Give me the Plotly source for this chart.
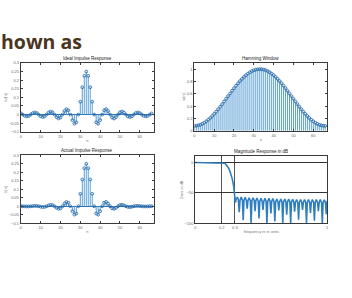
import plotly.graph_objects as go

# ---------------- data ----------------
n = list(range(67))
n_ticks = [0, 10, 20, 30, 40, 50, 60]

ideal_h = [0.00682, 0, -0.00726, -0.01061, -0.00776, 0, 0.00834, 0.01224, 0.00900, 0,
           -0.00979, -0.01447, -0.01072, 0, 0.01185, 0.01768, 0.01324, 0, -0.01501, -0.02274,
           -0.01731, 0, 0.02046, 0.03183, 0.02501, 0, -0.03215, -0.05305, -0.04502, 0,
           0.07503, 0.15915, 0.22508, 0.25, 0.22508, 0.15915, 0.07503,
           0, -0.04502, -0.05305, -0.03215, 0, 0.02501, 0.03183, 0.02046, 0, -0.01731,
           -0.02274, -0.01501, 0, 0.01324, 0.01768, 0.01185, 0, -0.01072, -0.01447, -0.00979,
           0, 0.00900, 0.01224, 0.00834, 0, -0.00776, -0.01061, -0.00726, 0, 0.00682]

hamming_w = [0.08, 0.08208, 0.08831, 0.09863, 0.11295, 0.13114, 0.15302, 0.17842, 0.20708, 0.23876,
             0.27318, 0.31, 0.34891, 0.38955, 0.43156, 0.47454, 0.51811, 0.56189, 0.60546, 0.64845,
             0.69045, 0.73109, 0.77, 0.80682, 0.84124, 0.87292, 0.90158, 0.92698, 0.94886, 0.96705,
             0.98137, 0.99169, 0.99792, 1.0, 0.99792, 0.99169, 0.98137,
             0.96705, 0.94886, 0.92698, 0.90158, 0.87292, 0.84124, 0.80682, 0.77, 0.73109, 0.69045,
             0.64845, 0.60546, 0.56189, 0.51811, 0.47454, 0.43156, 0.38955, 0.34891, 0.31, 0.27318,
             0.23876, 0.20708, 0.17842, 0.15302, 0.13114, 0.11295, 0.09863, 0.08831, 0.08208, 0.08]

actual_h = [0.00055, 0, -0.00064, -0.00105, -0.00088, 0, 0.00128, 0.00218, 0.00186, 0,
            -0.00267, -0.00449, -0.00374, 0, 0.00511, 0.00839, 0.00686, 0, -0.00909, -0.01475,
            -0.01195, 0, 0.01575, 0.02568, 0.02104, 0, -0.02899, -0.04918, -0.04272, 0,
            0.07363, 0.15783, 0.22461, 0.25, 0.22461, 0.15783, 0.07363,
            0, -0.04272, -0.04918, -0.02899, 0, 0.02104, 0.02568, 0.01575, 0, -0.01195,
            -0.01475, -0.00909, 0, 0.00686, 0.00839, 0.00511, 0, -0.00374, -0.00449, -0.00267,
            0, 0.00186, 0.00218, 0.00128, 0, -0.00088, -0.00105, -0.00064, 0, 0.00055]

freq = [0, 0.05, 0.1, 0.15, 0.18, 0.2, 0.21, 0.22, 0.23, 0.24, 0.25, 0.26, 0.27, 0.28, 0.29, 0.3,
        0.304, 0.310, 0.318, 0.326, 0.333,
        0.339, 0.348, 0.357, 0.363, 0.369, 0.378, 0.387, 0.393,
        0.399, 0.408, 0.417, 0.423, 0.429, 0.438, 0.447, 0.453,
        0.459, 0.468, 0.477, 0.483, 0.489, 0.498, 0.507, 0.513,
        0.519, 0.528, 0.537, 0.543, 0.549, 0.558, 0.567, 0.573,
        0.579, 0.588, 0.597, 0.603, 0.609, 0.618, 0.627, 0.633,
        0.639, 0.648, 0.657, 0.663, 0.669, 0.678, 0.687, 0.693,
        0.699, 0.708, 0.717, 0.723, 0.729, 0.738, 0.747, 0.753,
        0.759, 0.768, 0.777, 0.783, 0.789, 0.798, 0.807, 0.813,
        0.819, 0.828, 0.837, 0.843, 0.849, 0.858, 0.867, 0.873,
        0.879, 0.888, 0.897, 0.903, 0.909, 0.918, 0.927, 0.933,
        0.939, 0.948, 0.957, 0.963, 0.969, 0.978, 0.987, 0.993, 1.0]

gain_db = [0, 0, 0, -0.01, -0.03, -0.1, -0.4, -1.2, -2.8, -5.2, -8.5, -13, -19, -27, -38, -55,
           -66, -60, -57, -61, -82,
           -62, -57, -62, -95, -62, -57.5, -62.5, -76,
           -63, -58, -63, -100, -63, -58, -63, -80,
           -63, -58.5, -63.5, -92, -64, -59, -64, -78,
           -64, -59, -64, -100, -64, -59, -64, -84,
           -64, -59.5, -64.5, -97, -65, -60, -65, -79,
           -65, -60, -65, -100, -65, -60, -65, -86,
           -65, -60, -65, -100, -65, -60.5, -65.5, -81,
           -66, -61, -66, -94, -66, -61, -66, -78,
           -66, -61, -66, -100, -66, -61, -66, -83,
           -66, -61, -66, -96, -66, -61, -66, -80,
           -66, -61, -66, -100, -66, -61.5, -66, -85, -63]

# ---------------- layout helpers ----------------
W, H = 352, 298


def dom_x(a, b):
    return [a / W, b / W]


def dom_y(top, bottom):
    return [1 - bottom / H, 1 - top / H]


STEM = '#5a9fd4'
MARK = '#2b6cab'
LINE = '#2f7fc0'


def stem_xy(xs, ys):
    sx, sy = [], []
    for x, y in zip(xs, ys):
        sx += [x, x, None]
        sy += [0, y, None]
    return sx, sy


fig = go.Figure()

panels = [(ideal_h, 'x', 'y'), (hamming_w, 'x2', 'y2'), (actual_h, 'x3', 'y3')]
for ys, xa, ya in panels:
    sx, sy = stem_xy(n, ys)
    fig.add_trace(go.Scatter(x=sx, y=sy, mode='lines', line=dict(color=STEM, width=1),
                             xaxis=xa, yaxis=ya, showlegend=False, hoverinfo='skip'))
    fig.add_trace(go.Scatter(x=n, y=ys, mode='markers',
                             marker=dict(symbol='circle-open', size=2.8, color=MARK,
                                         line=dict(width=0.9, color=MARK)),
                             xaxis=xa, yaxis=ya, showlegend=False))

fig.add_trace(go.Scatter(x=freq, y=gain_db, mode='lines', line=dict(color=LINE, width=1.6),
                         xaxis='x4', yaxis='y4', showlegend=False))

tf = dict(size=4, color='#666', family='Liberation Sans')
ttl = dict(size=4, color='#777', family='Liberation Sans')
common = dict(showline=True, linecolor='#3a3a3a', linewidth=1, mirror='ticks', ticks='inside',
              ticklen=2, tickcolor='#3a3a3a', tickfont=tf, showgrid=False, zeroline=False)

fig.update_layout(
    width=W, height=H, margin=dict(l=0, r=0, t=0, b=0),
    paper_bgcolor='white', plot_bgcolor='white',
    xaxis=dict(common, domain=dom_x(20, 154), anchor='y', range=[0, 67], tickvals=n_ticks,
               title=dict(text='n', font=ttl, standoff=1)),
    yaxis=dict(common, domain=dom_y(61, 131), anchor='x', range=[-0.1, 0.3], dtick=0.05,
               zeroline=True, zerolinecolor=MARK, zerolinewidth=1.2,
               title=dict(text='hd[n]', font=ttl, standoff=1)),
    xaxis2=dict(common, domain=dom_x(195, 329), anchor='y2', range=[0, 67], tickvals=n_ticks,
                title=dict(text='n', font=ttl, standoff=1)),
    yaxis2=dict(common, domain=dom_y(61, 130), anchor='x2', range=[0, 1.1], dtick=0.2,
                title=dict(text='w[n]', font=ttl, standoff=1)),
    xaxis3=dict(common, domain=dom_x(20, 154), anchor='y3', range=[0, 67], tickvals=n_ticks,
                title=dict(text='n', font=ttl, standoff=1)),
    yaxis3=dict(common, domain=dom_y(155, 224), anchor='x3', range=[-0.1, 0.3], dtick=0.05,
                zeroline=True, zerolinecolor=MARK, zerolinewidth=1.2,
                title=dict(text='h[n]', font=ttl, standoff=1)),
    xaxis4=dict(common, domain=dom_x(196, 329), anchor='y4', range=[0, 1], tickvals=[0, 0.2, 0.3, 1],
                showgrid=True, gridcolor='#555', gridwidth=1,
                title=dict(text='frequency in π units', font=ttl, standoff=1)),
    yaxis4=dict(common, domain=dom_y(156, 224), anchor='x4', range=[-100, 10], tickvals=[-100, -50, 0],
                showgrid=True, gridcolor='#333', gridwidth=1,
                title=dict(text='Gain in dB', font=ttl, standoff=1)),
)

titles = [('Ideal Impulse Response', (20 + 154) / 2, 61),
          ('Hamming Window', (195 + 329) / 2, 61),
          ('Actual Impulse Response', (20 + 154) / 2, 155),
          ('Magnitude Response in dB', (196 + 329) / 2, 156)]
for txt, cx, top in titles:
    fig.add_annotation(text=txt, x=cx / W, y=1 - top / H, xref='paper', yref='paper',
                       xanchor='center', yanchor='bottom', showarrow=False,
                       font=dict(size=4.5, color='#222', family='Liberation Sans'))

fig.add_annotation(text='<b>hown as</b>', x=-2 / W, y=1 - 39 / H, xref='paper', yref='paper',
                   xanchor='left', yanchor='middle', showarrow=False,
                   font=dict(size=19.5, color='#4a3520', family='Open Sans'))

fig.write_html('out.html')
